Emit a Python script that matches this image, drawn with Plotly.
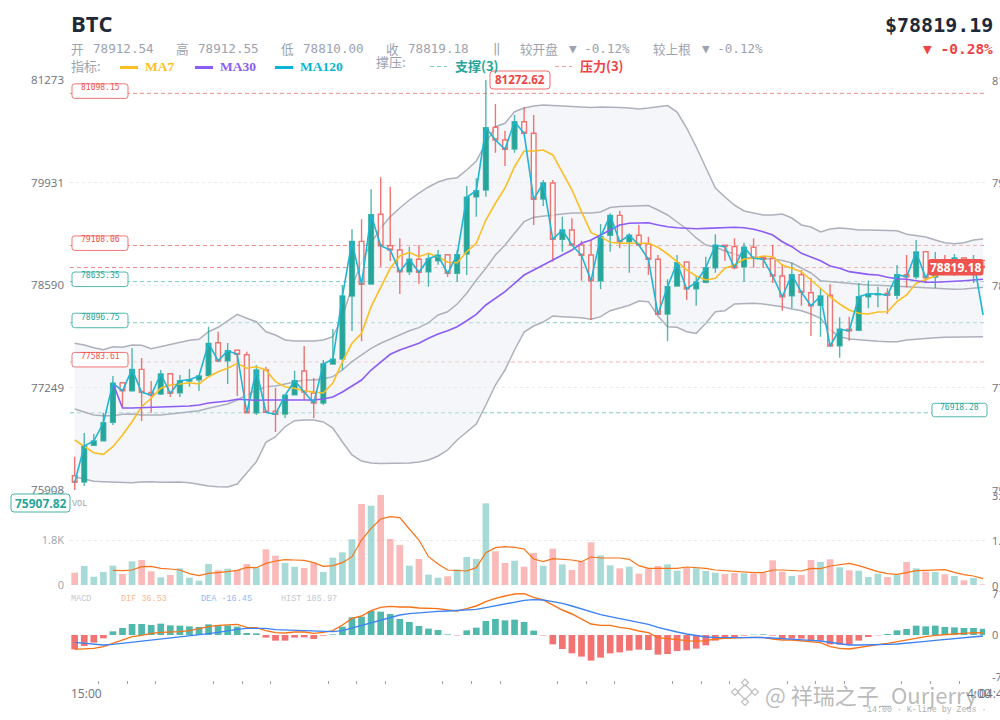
import plotly.graph_objects as go
from plotly.subplots import make_subplots

# BTC 15m candles
open_ = [76095, 76012, 76493, 76553, 76794, 77312, 77207, 77487, 77186, 77164, 77430, 77181, 77334, 77351, 77404, 77835,
         77600, 77736, 77678, 76919, 77478, 76938, 76902, 77155, 77465, 77177, 77046, 77557, 77622, 78446, 79162, 78603,
         79516, 79105, 79048, 78764, 78927, 78764, 78908, 78987, 78743, 78996, 79746, 79834, 80654, 80488, 80370, 80727,
         80576, 79716, 79925, 79188, 79310, 79114, 78983, 78647, 79241, 79502, 79157, 79241, 79127, 78927, 78211, 78577,
         78891, 78542, 78626, 78817, 79110, 79092, 78830, 79084, 78948, 78940, 78708, 78450, 78725, 78490, 78325, 78456,
         77796, 78011, 77998, 78437, 78463, 78482, 78456, 78725, 78699, 79026, 78695, 78891, 78787, 78944, 78865, 78912.54]
high_ = [76343, 76654, 76641, 76919, 77400, 77312, 77766, 77635, 77334, 77478, 77430, 77413, 77491, 77400, 78045, 77979,
         77831, 77740, 77717, 77543, 77521, 77242, 77151, 77469, 77792, 77373, 77609, 78015, 78590, 79319, 79450, 79843,
         80000, 79877, 79201, 79092, 79114, 79009, 79048, 78987, 79048, 79886, 79987, 81272.62, 80959, 80610, 80815, 80916,
         80815, 79964, 79964, 79484, 79463, 79170, 79179, 79389, 79529, 79563, 79267, 79376, 79222, 78983, 78665, 78983,
         78891, 78708, 78961, 79254, 79114, 79201, 79144, 79201, 78957, 79114, 78865, 78882, 78787, 78686, 78547, 78600,
         78168, 78176, 78613, 78647, 78568, 78547, 78852, 78983, 79179, 79026, 79022, 78983, 78996, 78957, 78983, 78912.55]
low_ = [75907.82, 75960, 76484, 76553, 76758, 76998, 77194, 76811, 76919, 77151, 77125, 77125, 77260, 77207, 77404, 77596,
        77295, 77138, 76919, 76889, 76925, 76667, 76850, 77151, 77085, 76850, 77020, 77557, 77478, 77988, 77854, 78603,
        78830, 78904, 78473, 78721, 78603, 78568, 78856, 78699, 78634, 78721, 79484, 79746, 80322, 80148, 80322, 80576,
        79376, 79624, 78895, 79026, 79114, 78647, 78132, 78534, 79026, 79071, 78751, 79114, 78721, 78207, 77858, 78577,
        78394, 78319, 78613, 78751, 78908, 78796, 78634, 78817, 78817, 78617, 78254, 78285, 78319, 77923, 77914, 77783,
        77639, 77862, 77992, 78285, 78299, 78211, 78403, 78560, 78665, 78613, 78551, 78747, 78708, 78787, 78617, 78810]
close_ = [76008, 76484, 76549, 76788, 77304, 77207, 77487, 77186, 77151, 77426, 77173, 77338, 77351, 77400, 77827, 77596,
          77731, 77683, 76919, 77478, 76925, 76898, 77147, 77338, 77190, 77046, 77557, 77618, 78446, 79162, 78600, 79510,
          79105, 79048, 78764, 78927, 78757, 78935, 78979, 78743, 78987, 79738, 79824, 80649, 80488, 80366, 80727, 80576,
          79712, 79925, 79188, 79310, 79114, 78979, 78647, 79222, 79502, 79157, 79241, 79114, 78927, 78207, 78568, 78882,
          78538, 78626, 78817, 79110, 79092, 78817, 79084, 78940, 78927, 78708, 78437, 78725, 78495, 78319, 78446, 77792,
          78011, 77992, 78437, 78473, 78476, 78456, 78725, 78699, 79022, 78686, 78891, 78787, 78944, 78878, 78918, 78819.18]
ma120 = close_[:-1] + [78198]

boll_upper = [77828, 77805, 77770, 77744, 77783, 77775, 77805, 77801, 77757, 77783, 77805, 77835, 77867, 77880, 77979, 78037,
              78123, 78207, 78155, 78110, 77979, 77936, 77871, 77858, 77858, 77858, 77871, 77914, 78176, 78568, 78891, 79140,
              79336, 79484, 79598, 79703, 79794, 79873, 79938, 79978, 79995, 80095, 80213, 80449, 80662, 80706, 80858, 80907,
              80933, 80946, 80939, 80933, 80926, 80920, 80913, 80920, 80920, 80913, 80907, 80894, 80907, 80920, 80939, 80854,
              80645, 80396, 80135, 79860, 79742, 79637, 79559, 79533, 79507, 79507, 79520, 79467, 79376, 79349, 79284, 79323,
              79336, 79327, 79310, 79310, 79310, 79310, 79301, 79254, 79232, 79219, 79179, 79144, 79131, 79144, 79179, 79192]
boll_mid = [76968, 76933, 76889, 76880, 76880, 76898, 76902, 76889, 76885, 76889, 76902, 76919, 76933, 76946, 76977, 77007,
            77033, 77086, 77151, 77216, 77260, 77269, 77295, 77325, 77347, 77347, 77360, 77391, 77478, 77587, 77674, 77762,
            77828, 77880, 77936, 77992, 78032, 78097, 78198, 78241, 78342, 78482, 78656, 78809, 78983, 79114, 79267, 79419,
            79476, 79493, 79507, 79520, 79533, 79533, 79533, 79546, 79605, 79618, 79624, 79631, 79631, 79572, 79507, 79415,
            79323, 79206, 79114, 79088, 79035, 78996, 78950, 78944, 78937, 78931, 78911, 78878, 78813, 78748, 78647, 78634,
            78621, 78613, 78600, 78590, 78587, 78581, 78568, 78564, 78560, 78551, 78542, 78538, 78534, 78538, 78551, 78560]
boll_lower = [76082, 76052, 76022, 76016, 76013, 76013, 76003, 76013, 76016, 76009, 76013, 76013, 76003, 75977, 75960, 75951,
              75947, 75986, 76126, 76278, 76532, 76605, 76736, 76815, 76824, 76824, 76798, 76719, 76536, 76366, 76287, 76261,
              76255, 76255, 76261, 76261, 76274, 76300, 76353, 76431, 76562, 76667, 76772, 77020, 77282, 77478, 77740, 77975,
              78054, 78106, 78185, 78176, 78172, 78163, 78142, 78176, 78254, 78293, 78325, 78381, 78372, 78185, 78045, 78037,
              77979, 77958, 78089, 78241, 78254, 78342, 78351, 78351, 78342, 78329, 78307, 78276, 78254, 78211, 78155, 78002,
              77914, 77884, 77871, 77858, 77854, 77849, 77849, 77871, 77884, 77893, 77901, 77906, 77910, 77914, 77914, 77914]
ma7 = [76562, 76474, 76396, 76375, 76474, 76628, 76802, 76998, 77108, 77239, 77282, 77295, 77312, 77295, 77391, 77456,
       77501, 77566, 77501, 77521, 77478, 77325, 77260, 77239, 77203, 77190, 77177, 77308, 77587, 77828, 77958, 78307,
       78568, 78809, 78970, 79018, 78961, 79005, 78961, 78888, 78882, 79026, 79136, 79441, 79660, 79860, 80139, 80344,
       80344, 80357, 80292, 80069, 79834, 79550, 79275, 79223, 79149, 79136, 79136, 79127, 79136, 79084, 78996, 78895,
       78787, 78708, 78656, 78678, 78809, 78852, 78931, 78940, 78970, 78961, 78852, 78809, 78765, 78656, 78547, 78437,
       78342, 78263, 78220, 78211, 78237, 78241, 78372, 78460, 78613, 78665, 78708, 78787, 78813, 78813, 78813, 78800]
ma30 = [None, None, None, None, 77304, 76981, 76981, 76985, 76998, 76998, 77007, 77007, 77007, 77020, 77046, 77059,
        77072, 77095, 77086, 77082, 77086, 77086, 77086, 77086, 77086, 77086, 77099, 77125, 77190, 77269, 77347, 77478,
        77587, 77684, 77740, 77783, 77828, 77893, 77949, 77992, 78045, 78123, 78207, 78329, 78416, 78503, 78613, 78721,
        78787, 78848, 78918, 78983, 79048, 79136, 79179, 79245, 79310, 79376, 79398, 79402, 79406, 79376, 79353, 79340,
        79332, 79327, 79332, 79336, 79340, 79346, 79340, 79319, 79288, 79245, 79157, 79092, 79005, 78961, 78908, 78839,
        78809, 78765, 78744, 78730, 78721, 78691, 78673, 78665, 78647, 78626, 78626, 78630, 78639, 78647, 78656, 78665]

volume = [493, 760, 333, 520, 773, 440, 947, 1000, 547, 307, 400, 667, 293, 173, 840, 587,
          653, 600, 840, 707, 1427, 1173, 880, 733, 680, 893, 520, 1093, 1307, 1827, 3240, 3173,
          3600, 1840, 1600, 773, 1040, 413, 293, 347, 627, 1120, 1040, 3267, 1347, 880, 973, 733,
          1280, 773, 1453, 827, 600, 947, 1707, 1187, 787, 667, 733, 453, 667, 760, 827, 573,
          693, 667, 560, 493, 440, 480, 467, 453, 467, 987, 533, 360, 400, 1000, 920, 1027,
          707, 587, 573, 320, 453, 320, 413, 920, 667, 533, 520, 427, 360, 187, 280, 27]
vol_ma = [None, None, None, None, 587, 573, 600, 733, 747, 667, 640, 600, 453, 373, 467, 493,
          533, 587, 707, 693, 867, 960, 1013, 1000, 987, 893, 747, 773, 893, 1133, 1800, 2267,
          2640, 2733, 2693, 2240, 1800, 1133, 840, 600, 573, 560, 693, 1293, 1493, 1533, 1507, 1440,
          1040, 933, 1053, 1027, 1000, 933, 1120, 1080, 1067, 1080, 1027, 773, 667, 667, 693, 667,
          720, 707, 667, 600, 573, 533, 507, 493, 493, 600, 600, 573, 560, 667, 653, 760,
          827, 867, 773, 653, 533, 453, 427, 493, 573, 587, 613, 613, 507, 413, 360, 253]

dif = [-244, -238, -227, -198, -142, -85, -28, -6, 28, 45, 45, 57, 74, 113, 142, 164,
       176, 181, 130, 125, 74, 40, 34, 51, 51, 28, 45, 74, 170, 283, 323, 414,
       470, 487, 476, 476, 459, 453, 448, 425, 408, 448, 493, 567, 623, 663, 697, 703,
       640, 595, 510, 425, 357, 272, 187, 164, 164, 130, 108, 68, 40, -45, -68, -79,
       -96, -108, -96, -68, -57, -57, -45, -40, -40, -68, -85, -85, -96, -119, -130, -198,
       -227, -238, -210, -187, -164, -142, -113, -85, -45, -28, -6, 11, 17, 28, 40, 36.53]
dea = [-125, -142, -159, -170, -159, -142, -125, -108, -91, -68, -51, -34, -11, 0, 23, 45,
       74, 96, 113, 119, 113, 91, 85, 74, 68, 62, 57, 57, 74, 119, 170, 215,
       255, 306, 340, 363, 380, 397, 402, 408, 414, 419, 436, 465, 499, 527, 561, 589,
       601, 595, 567, 538, 493, 442, 397, 346, 312, 278, 244, 210, 181, 130, 85, 51,
       17, -11, -34, -40, -45, -45, -45, -40, -40, -51, -62, -68, -79, -91, -102, -125,
       -153, -170, -170, -170, -164, -159, -153, -142, -125, -108, -91, -74, -62, -45, -34, -16.45]
macd_hist = [-244, -187, -130, -57, 62, 119, 187, 187, 170, 193, 164, 159, 147, 136, 181, 170,
             164, 142, 34, 28, -45, -96, -96, -45, -40, -68, -11, 11, 142, 300, 312, 408,
             397, 357, 272, 221, 153, 108, 85, 11, -6, 79, 125, 238, 272, 249, 261, 221,
             74, -6, -159, -238, -312, -368, -436, -385, -312, -295, -266, -249, -255, -334, -323, -272,
             -261, -232, -176, -96, -62, -51, -11, 6, 11, -11, -62, -62, -62, -96, -96, -159,
             -164, -164, -96, -34, -6, 17, 79, 102, 159, 147, 159, 136, 130, 119, 119, 105.97]

support_levels = [78635.35, 78096.75, 76918.28]
resistance_levels = [81098.15, 79108.06, 77583.61]
last_price = 78819.18

price_ticks = [81273, 79931, 78590, 77249, 75908]
vol_ticks = [0, 1800, 3600]
vol_tick_labels = ["0", "1.8K", "3.7K"]

candle_x = list(range(len(close_)))

TEAL = "#26a69a"
RED = "#ef5350"
GRAY = "#9ca3af"
AXIS_GRAY = "#6b7280"
DARK = "#1f2937"
MONO = "DejaVu Sans Mono, monospace"
CJK = "Noto Sans CJK SC, sans-serif"
SANS = "Open Sans, sans-serif"


# pixel helpers for the decorations, the canvas is 1000x720 with no margin
def fx(x):
    return x / 1000


def fy(y):
    return 1 - y / 720


def price_y(value):
    return 80 + (price_ticks[0] - value) * 410 / (price_ticks[0] - price_ticks[-1])


fig = make_subplots(rows=3, cols=1, shared_xaxes=True)

# plotly always paints box traces under scatter traces of one subplot, so the band sits
# on the base price axis and candles + MAs go on an overlay axis (y4) above it
fig.add_trace(go.Scatter(x=candle_x, y=boll_upper, mode="lines", line=dict(color="#adb1bc", width=1.5)), row=1, col=1)
fig.add_trace(go.Scatter(x=candle_x, y=boll_lower, mode="lines", line=dict(color="#adb1bc", width=1.5),
                         fill="tonexty", fillcolor="rgba(233,236,241,0.45)"), row=1, col=1)
fig.add_trace(go.Scatter(x=candle_x, y=boll_mid, mode="lines", line=dict(color="#adb1bc", width=1.5)), row=1, col=1)

fig.add_trace(go.Candlestick(
    x=candle_x, open=open_, high=high_, low=low_, close=close_, xaxis="x", yaxis="y4",
    increasing=dict(line=dict(color="rgba(38,166,154,0.8)", width=1.4), fillcolor=TEAL),
    decreasing=dict(line=dict(color="rgba(239,83,80,0.8)", width=1.4), fillcolor="rgba(255,255,255,0.7)"),
))

fig.add_trace(go.Scatter(x=candle_x, y=ma7, mode="lines", line=dict(color="#fbbf24", width=1.6), xaxis="x", yaxis="y4"))
fig.add_trace(go.Scatter(x=candle_x, y=ma30, mode="lines", line=dict(color="#8b5cf6", width=1.6), xaxis="x", yaxis="y4"))
fig.add_trace(go.Scatter(x=candle_x, y=ma120, mode="lines", line=dict(color="#1fb6d3", width=1.6), xaxis="x", yaxis="y4"))

vol_colors = ["rgba(38,166,154,0.4)" if c >= o else "rgba(239,83,80,0.4)" for o, c in zip(open_, close_)]
fig.add_trace(go.Bar(x=candle_x, y=volume, marker=dict(color=vol_colors, line=dict(width=0)), width=0.7), row=2, col=1)
fig.add_trace(go.Scatter(x=candle_x, y=vol_ma, mode="lines", line=dict(color="#f97316", width=1.2)), row=2, col=1)

hist_colors = ["rgba(38,166,154,0.8)" if v >= 0 else "rgba(239,68,68,0.75)" for v in macd_hist]
fig.add_trace(go.Bar(x=candle_x, y=macd_hist, marker=dict(color=hist_colors, line=dict(width=0)), width=0.7), row=3, col=1)
fig.add_trace(go.Scatter(x=candle_x, y=dif, mode="lines", line=dict(color="#f97316", width=1.4)), row=3, col=1)
fig.add_trace(go.Scatter(x=candle_x, y=dea, mode="lines", line=dict(color="#3b82f6", width=1.4)), row=3, col=1)

# ---- level lines and their boxes ----
shapes = []
annotations = []


def label(x, y, text, size=12, color=GRAY, family=MONO, anchor="left"):
    annotations.append(dict(x=fx(x), y=fy(y), xref="paper", yref="paper", text=text, showarrow=False,
                            xanchor=anchor, yanchor="middle", align=anchor, borderpad=0,
                            font=dict(size=size, color=color, family=family)))


def round_box(x0, y0, x1, y1, fill, border, r=2.5, width=1):
    X0, X1 = fx(x0), fx(x1)
    Y0, Y1 = fy(y0), fy(y1)
    rx, ry = r / 1000, r / 720
    path = (f"M {X0 + rx} {Y0} L {X1 - rx} {Y0} Q {X1} {Y0} {X1} {Y0 - ry} L {X1} {Y1 + ry} Q {X1} {Y1} {X1 - rx} {Y1} "
            f"L {X0 + rx} {Y1} Q {X0} {Y1} {X0} {Y1 + ry} L {X0} {Y0 - ry} Q {X0} {Y0} {X0 + rx} {Y0} Z")
    shapes.append(dict(type="path", path=path, xref="paper", yref="paper", fillcolor=fill,
                       line=dict(color=border, width=width)))


def level_line(value, color):
    shapes.append(dict(type="line", xref="paper", yref="y", x0=0.07, x1=0.987, y0=value, y1=value, layer="below",
                       line=dict(color=color, width=1, dash="4px,3px")))


for value in resistance_levels:
    level_line(value, "#f7b4b3" if value == resistance_levels[-1] else "#ee8d8b")
for value in support_levels:
    level_line(value, "#7fcdc4")
level_line(last_price, "#ee8d8b")

for value in resistance_levels:
    y = price_y(value)
    round_box(72, y - 9.5, 128, y + 5, "rgba(255,255,255,0.92)", "rgba(239,83,80,0.8)")
    label(100, y - 5.7, f"{value:.2f}", 8, RED, MONO, "center")
for value in support_levels[:2]:
    y = price_y(value)
    round_box(72, y - 9.5, 128, y + 5, "rgba(255,255,255,0.92)", "rgba(38,166,154,0.8)")
    label(100, y - 5.7, f"{value:.2f}", 8, TEAL, MONO, "center")
y = price_y(support_levels[2])
round_box(932, y - 9.5, 987, y + 4, "rgba(255,255,255,0.92)", "rgba(38,166,154,0.8)")
label(959.5, y - 5, f"{support_levels[2]:.2f}", 8, TEAL, MONO, "center")

# high / low / last badges
round_box(490, 71, 550, 89, "rgba(255,255,255,0.95)", "rgba(239,83,80,0.85)", r=3)
label(520, 79.5, f"<b>{max(high_):.2f}</b>", 11.5, "#ef4444", SANS, "center")
round_box(11, 494, 70, 512, "rgba(255,255,255,0.95)", "rgba(38,166,154,0.85)", r=3)
label(40.5, 503, f"<b>{min(low_):.2f}</b>", 12, TEAL, SANS, "center")
round_box(928.5, 259.5, 983, 275, "#ef5350", "#ef5350", r=2)
label(955.7, 267.3, f"<b>{last_price:.2f}</b>", 12, "#ffffff", SANS, "center")

# ---- header ----
label(70, 22.5, "<b>BTC</b>", 22, DARK, SANS)
label(994, 25, "<b>$78819.19</b>", 20, DARK, MONO, "right")
label(994, 49, "<b>▼ -0.28%</b>", 14.5, "#ef4444", MONO, "right")

header_items = [(70, "开"), (92, "78912.54"), (175, "高"), (197, "78912.55"), (280, "低"), (302, "78810.00"),
                (385, "收"), (407, "78819.18"), (492, "‖"), (519, "较开盘"), (568, "▼ -0.12%"),
                (652, "较上根"), (701, "▼ -0.12%")]
for x, text in header_items:
    label(x, 49, text, 12.6, GRAY, MONO if text[0] in "789▼‖" else CJK)

label(70, 65, "指标:", 13, GRAY, CJK)
label(375, 61, "撑压:", 13, GRAY, CJK)
for x, color in [(120, "#fbbf24"), (195, "#8b5cf6"), (275, "#06b6d4")]:
    shapes.append(dict(type="line", xref="paper", yref="paper", x0=fx(x), x1=fx(x + 18), y0=fy(67.5), y1=fy(67.5),
                       line=dict(color=color, width=3)))
SERIF = "Liberation Serif, serif"
label(144, 66, "<b>MA7</b>", 13.5, "#fbbf24", SERIF)
label(219, 66, "<b>MA30</b>", 13.5, "#8b5cf6", SERIF)
label(299, 66, "<b>MA120</b>", 13.5, "#06b6d4", SERIF)
for x, color in [(430, "#7fcdc4"), (555, "#f49e9c")]:
    shapes.append(dict(type="line", xref="paper", yref="paper", x0=fx(x), x1=fx(x + 17), y0=fy(66.5), y1=fy(66.5),
                       line=dict(color=color, width=1, dash="4px,3px")))
label(454, 65.5, "<b>支撑(3)</b>", 13, TEAL, CJK)
label(579, 65.5, "<b>压力(3)</b>", 13, "#ef4444", CJK)

# ---- panel captions ----
SMALL = "Liberation Mono, monospace"
label(71, 504, "VOL", 8.5, GRAY, SMALL)
label(70, 599, "MACD", 8.5, "#c4c8cf", SMALL)
label(120, 599, f"DIF {dif[-1]:.2f}", 8.5, "#fdba8c", SMALL)
label(200, 599, f"DEA {dea[-1]:.2f}", 8.5, "#93b9f8", SMALL)
label(280, 599, f"HIST {macd_hist[-1]:.2f}", 8.5, "#c4c8cf", SMALL)

# right hand labels run off the canvas, same as the screenshot
for value in price_ticks:
    label(991, price_y(value), str(value), 11, AXIS_GRAY, SANS)
label(991, 495, "3.7K", 11, AXIS_GRAY, SANS)
label(991, 540, "1.8K", 11, AXIS_GRAY, SANS)
label(991, 585, "0", 11, AXIS_GRAY, SANS)
label(991, 593, "714", 11, AXIS_GRAY, SANS)
label(991, 634, "0", 11, AXIS_GRAY, SANS)
label(991, 676, "-714", 11, AXIS_GRAY, SANS)

label(70, 693, "15:00", 12, AXIS_GRAY, SANS)
label(966, 693, "4:00", 12, AXIS_GRAY, SANS)
label(978, 693, "04:45", 12, AXIS_GRAY, SANS)

# ---- watermark ----
for cx, cy, r in [(745, 692, 7.5), (745, 682.5, 3.5), (745, 702, 3.5), (735, 692, 3.5), (755, 692, 3.5)]:
    path = (f"M {fx(cx)} {fy(cy - r)} L {fx(cx + r)} {fy(cy)} L {fx(cx)} {fy(cy + r)} L {fx(cx - r)} {fy(cy)} Z")
    shapes.append(dict(type="path", path=path, xref="paper", yref="paper", fillcolor="rgba(255,255,255,0.8)",
                       line=dict(color="rgba(170,170,170,0.75)", width=1.2)))
label(764, 694, "@ 祥瑞之子_Ourjerry", 22, "rgba(140,140,140,0.6)", CJK)
label(866, 709, "14:00 · K-line by Zeus ·", 8.3, "#b0b0b0", SMALL)

fig.update_layout(
    width=1000, height=720, margin=dict(l=0, r=0, t=0, b=0, autoexpand=False), autosize=False,
    paper_bgcolor="white", plot_bgcolor="white", showlegend=False, bargap=0.3,
    font=dict(family=SANS, color=AXIS_GRAY),
    shapes=shapes, annotations=annotations, hovermode=False,
)

x_range = [-0.49, 95.2]
bottom_ticks = [2.5 + 3 * k for k in range(31) if k % 4 != 3]
fig.update_xaxes(range=x_range, showgrid=False, zeroline=False, showline=False, showticklabels=False,
                 ticks="", rangeslider_visible=False, domain=[0.07, 0.985])
fig.update_xaxes(row=3, col=1, ticks="outside", ticklen=3, tickcolor="#9ca3af", tickwidth=1,
                 tickvals=bottom_ticks, ticktext=["" for _ in bottom_ticks], showticklabels=True)

fig.update_yaxes(row=1, col=1, domain=[fy(490), fy(80)], range=[price_ticks[-1], price_ticks[0]],
                 tickvals=price_ticks, ticktext=[str(v) for v in price_ticks],
                 tickfont=dict(size=11.5, color=AXIS_GRAY), ticks="", ticklabelstandoff=5,
                 showgrid=True, gridcolor="#e9ebee", griddash="dot", gridwidth=1, zeroline=False, showline=False)
fig.update_layout(yaxis4=dict(overlaying="y", range=[price_ticks[-1], price_ticks[0]], showticklabels=False,
                              showgrid=False, zeroline=False, showline=False, ticks=""))
fig.update_yaxes(row=2, col=1, domain=[fy(585), fy(495)], range=[0, 3600], tickvals=vol_ticks,
                 ticktext=vol_tick_labels, tickfont=dict(size=11, color=GRAY), ticks="", ticklabelstandoff=5,
                 showgrid=True, gridcolor="#e9ebee", griddash="dot", gridwidth=1, zeroline=False, showline=False)
fig.update_yaxes(row=3, col=1, domain=[fy(680), fy(593)], range=[-765, 714], showticklabels=False, ticks="",
                 showgrid=False, zeroline=False, showline=False)

fig.write_html("out.html", config=dict(displayModeBar=False),
               post_script="document.body.style.margin='0';document.body.style.overflow='hidden';")
